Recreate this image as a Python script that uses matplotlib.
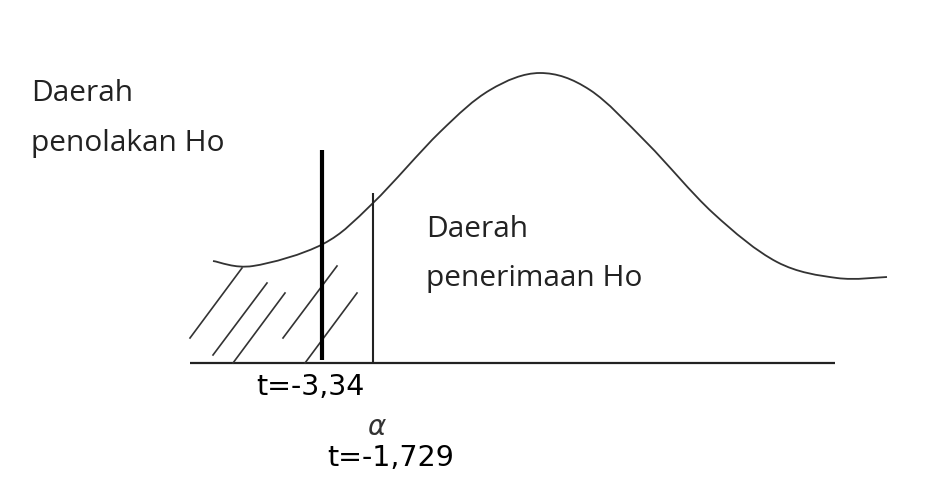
import matplotlib
matplotlib.use("Agg")
import matplotlib.pyplot as plt
from matplotlib.path import Path
from matplotlib.patches import PathPatch
import numpy as np

plt.rcParams['font.family'] = ['Open Sans', 'DejaVu Sans']

# Curve points (pixel coordinates)
curve_x = [213, 253, 323, 373, 440, 490, 540, 590, 647, 713, 777, 837, 887]
curve_y = [261, 266, 244, 203, 132, 90, 73, 90, 143, 213, 262, 278, 277]

# Hatch lines (start x, start y, end x, end y)
hatch_x0 = [190, 213, 233, 283, 305]
hatch_y0 = [338, 355, 363, 338, 363]
hatch_x1 = [242, 267, 285, 337, 357]
hatch_y1 = [268, 283, 293, 266, 293]

# Critical value markers
t_obs_x, t_obs_top = 322, 150
t_crit_x, t_crit_top = 373, 193
axis_y = 363
axis_x0, axis_x1 = 190, 835

label_left = ["Daerah", "penolakan Ho"]
label_right = ["Daerah", "penerimaan Ho"]
label_tobs = "t=-3,34"
label_tcrit = "t=-1,729"

fig = plt.figure(figsize=(9.33, 4.92), dpi=100)
ax = fig.add_axes([0, 0, 1, 1])
ax.set_xlim(0, 933)
ax.set_ylim(492, 0)
ax.axis('off')

# Smooth curve via Catmull-Rom -> cubic Bezier
pts = np.column_stack([curve_x, curve_y]).astype(float)
verts = [tuple(pts[0])]
codes = [Path.MOVETO]
n = len(pts)
for i in range(n - 1):
    p0 = pts[max(i - 1, 0)]
    p1 = pts[i]
    p2 = pts[i + 1]
    p3 = pts[min(i + 2, n - 1)]
    c1 = p1 + (p2 - p0) / 6.0
    c2 = p2 - (p3 - p1) / 6.0
    verts += [tuple(c1), tuple(c2), tuple(p2)]
    codes += [Path.CURVE4] * 3
ax.add_patch(PathPatch(Path(verts, codes), fill=False, edgecolor='#333333', lw=1.3))

# Baseline
ax.plot([axis_x0, axis_x1], [axis_y, axis_y], color='#222222', lw=1.6, solid_capstyle='butt')

# Hatching
for x0, y0, x1, y1 in zip(hatch_x0, hatch_y0, hatch_x1, hatch_y1):
    ax.plot([x0, x1], [y0, y1], color='#333333', lw=1.2)

# Vertical lines
ax.plot([t_obs_x, t_obs_x], [t_obs_top, axis_y - 3], color='black', lw=3.0, solid_capstyle='butt')
ax.plot([t_crit_x, t_crit_x], [t_crit_top, axis_y], color='#222222', lw=1.5, solid_capstyle='butt')

# Texts
fs_lbl = 21.5
ax.text(31, 101, label_left[0], fontsize=fs_lbl, color='#222222', va='baseline', ha='left')
ax.text(31, 151, label_left[1], fontsize=fs_lbl, color='#222222', va='baseline', ha='left')
ax.text(426, 237, label_right[0], fontsize=fs_lbl, color='#222222', va='baseline', ha='left')
ax.text(426, 286, label_right[1], fontsize=fs_lbl, color='#222222', va='baseline', ha='left')
ax.text(256, 395, label_tobs, fontsize=20.5, color='black', va='baseline', ha='left',
        family='DejaVu Sans')
ax.text(377, 435, r'$\alpha$', fontsize=20, color='#333333', va='baseline', ha='center')
ax.text(327, 466, label_tcrit, fontsize=20.5, color='black', va='baseline', ha='left',
        family='DejaVu Sans')

fig.savefig('out.png', dpi=100)
